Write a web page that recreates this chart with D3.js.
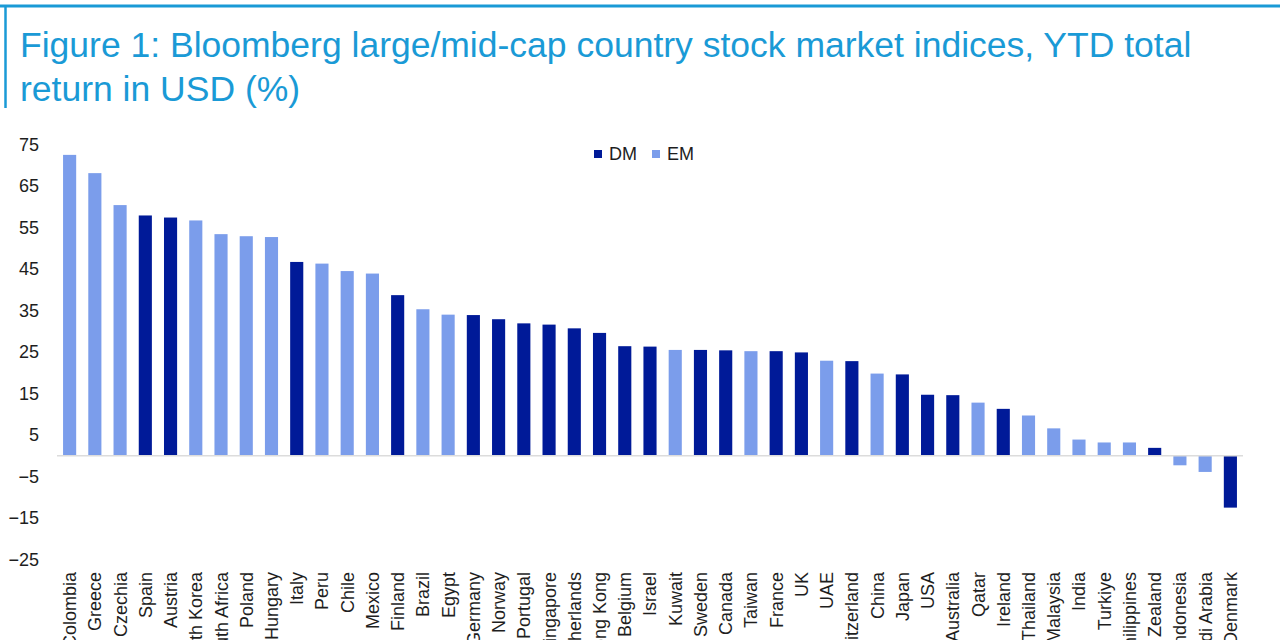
<!DOCTYPE html>
<html>
<head>
<meta charset="utf-8">
<script src="https://cdn.jsdelivr.net/npm/d3@7"></script>
<style>
  body { margin: 0; background: #fff; }
  svg { display: block; font-family: "Liberation Sans", Arial, sans-serif; }
</style>
</head>
<body>
<svg id="chart" width="1280" height="640"></svg>
<script>
// countries, sorted by YTD return
const countries = ["Colombia", "Greece", "Czechia", "Spain", "Austria", "South Korea", "South Africa",
  "Poland", "Hungary", "Italy", "Peru", "Chile", "Mexico", "Finland", "Brazil", "Egypt", "Germany",
  "Norway", "Portugal", "Singapore", "Netherlands", "Hong Kong", "Belgium", "Israel", "Kuwait",
  "Sweden", "Canada", "Taiwan", "France", "UK", "UAE", "Switzerland", "China", "Japan", "USA",
  "Australia", "Qatar", "Ireland", "Thailand", "Malaysia", "India", "Turkiye", "Philippines",
  "New Zealand", "Indonesia", "Saudi Arabia", "Denmark"];
const returns = [72.5, 68.1, 60.4, 57.9, 57.4, 56.7, 53.4, 52.9, 52.7, 46.7, 46.3, 44.5, 43.9,
  38.7, 35.3, 34.0, 33.9, 32.9, 31.9, 31.6, 30.7, 29.6, 26.4, 26.3, 25.5, 25.5, 25.4, 25.2, 25.2,
  24.9, 22.9, 22.8, 19.8, 19.6, 14.7, 14.6, 12.8, 11.3, 9.7, 6.6, 3.9, 3.2, 3.2, 1.9, -2.3, -3.9, -12.5];
const groups = ["EM", "EM", "EM", "DM", "DM", "EM", "EM", "EM", "EM", "DM", "EM", "EM", "EM",
  "DM", "EM", "EM", "DM", "DM", "DM", "DM", "DM", "DM", "DM", "DM", "EM", "DM", "DM", "EM", "DM",
  "DM", "EM", "DM", "EM", "DM", "DM", "DM", "EM", "DM", "EM", "EM", "EM", "EM", "EM", "DM", "EM", "EM", "DM"];
const yTicks = [75, 65, 55, 45, 35, 25, 15, 5, -5, -15, -25];
const legendKeys = ["DM", "EM"];

const colour = d3.scaleOrdinal().domain(legendKeys).range(["#001a98", "#7b9deb"]);
const titleBlue = "#1a9ad6";
const textCol = "#1e1e1e";

const svg = d3.select("#chart");

// frame lines round the title
svg.append("line").attr("x1", 0).attr("x2", 1280).attr("y1", 6).attr("y2", 6)
  .attr("stroke", titleBlue).attr("stroke-width", 3);
svg.append("line").attr("x1", 5.5).attr("x2", 5.5).attr("y1", 6).attr("y2", 108)
  .attr("stroke", titleBlue).attr("stroke-width", 2.5);

const title = svg.append("text").attr("fill", titleBlue).attr("font-size", 35.5);
title.append("tspan").attr("x", 20).attr("y", 57)
  .text("Figure 1: Bloomberg large/mid-cap country stock market indices, YTD total");
title.append("tspan").attr("x", 20).attr("y", 101).text("return in USD (%)");

const x = d3.scaleBand().domain(countries).range([57, 1243]).paddingInner(0.48).paddingOuter(0.24);
const y = d3.scaleLinear().domain([-25, 75]).range([559.5, 144.5]);

// y axis labels only
const yAxis = svg.append("g").attr("transform", "translate(39,0)")
  .call(d3.axisLeft(y).tickValues(yTicks).tickSize(0).tickPadding(0));
yAxis.select(".domain").remove();
yAxis.selectAll("text").attr("font-size", 18).attr("fill", textCol)
  .attr("font-family", "Liberation Sans, Arial, sans-serif");

// bars
svg.append("g").selectAll("rect")
  .data(countries)
  .join("rect")
  .attr("x", d => x(d))
  .attr("width", x.bandwidth())
  .attr("y", (d, i) => y(Math.max(0, returns[i])))
  .attr("height", (d, i) => Math.abs(y(returns[i]) - y(0)))
  .attr("fill", (d, i) => colour(groups[i]));

// zero line
svg.append("line").attr("x1", 57).attr("x2", 1243).attr("y1", y(0)).attr("y2", y(0))
  .attr("stroke", "#dcdcdc").attr("stroke-width", 1.5);

// x axis labels, rotated
const xAxis = svg.append("g").attr("transform", "translate(0,572)")
  .call(d3.axisBottom(x).tickSize(0).tickPadding(0));
xAxis.select(".domain").remove();
xAxis.selectAll("text")
  .attr("font-size", 18).attr("fill", textCol)
  .attr("font-family", "Liberation Sans, Arial, sans-serif")
  .attr("text-anchor", "end")
  .attr("transform", "rotate(-90)")
  .attr("x", 0).attr("y", 0).attr("dy", "0.36em");

// legend
const legend = svg.append("g").attr("transform", "translate(594,154)");
const item = legend.selectAll("g").data(legendKeys).join("g")
  .attr("transform", (d, i) => `translate(${i * 58},0)`);
item.append("rect").attr("x", 0).attr("y", -4).attr("width", 8).attr("height", 8)
  .attr("fill", d => colour(d));
item.append("text").attr("x", 15).attr("y", 0).attr("dy", "0.35em")
  .attr("font-size", 18).attr("fill", textCol).text(d => d);
</script>
</body>
</html>
